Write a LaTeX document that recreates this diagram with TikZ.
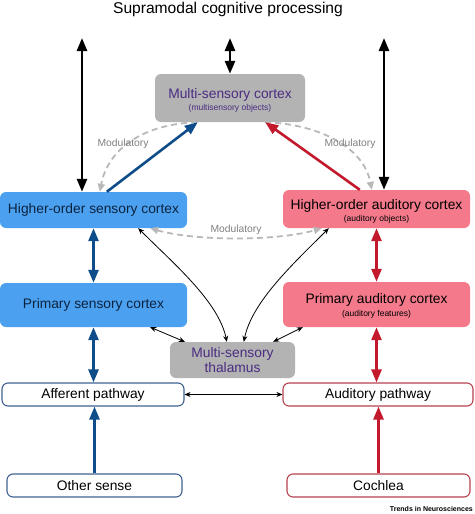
\documentclass[tikz,border=0pt]{standalone}
\usepackage{fontspec}
\setmainfont{Liberation Sans}
\usetikzlibrary{arrows.meta,calc}
\definecolor{boxblue}{HTML}{4BA1EF}
\definecolor{boxpink}{HTML}{F47A8B}
\definecolor{boxgray}{HTML}{B3B3B3}
\definecolor{arrblue}{HTML}{0F4C8A}
\definecolor{arrred}{HTML}{C21A2C}
\definecolor{txtpurple}{HTML}{4A2C82}
\definecolor{txtnavy}{HTML}{0C2340}
\definecolor{dashgray}{HTML}{B8B8B8}
\definecolor{modgray}{HTML}{808080}
\definecolor{lineblue}{HTML}{3E6290}
\definecolor{linered}{HTML}{B8424F}
\newcommand{\subfont}{\fontsize{8.5}{10}\selectfont}
\begin{document}
\begin{tikzpicture}[x=1pt,y=-1pt,
  box/.style={rounded corners=6pt, inner sep=0pt, align=center, font=\fontsize{13.8}{15}\selectfont},
  bluebox/.style={box, fill=boxblue, text=txtnavy, minimum width=187pt},
  pinkbox/.style={box, fill=boxpink, text=black, minimum width=187pt},
  graybox/.style={box, fill=boxgray, text=txtpurple},
  outblue/.style={box, draw=lineblue, line width=1.1pt, fill=white, minimum height=23pt},
  outred/.style={box, draw=linered, line width=1.1pt, fill=white, minimum height=23pt},
  bigblack/.style={<->, >={Triangle[length=13pt,width=10pt]}, line width=2.6pt, black},
  bigblue/.style={>={Triangle[length=13pt,width=10pt]}, line width=2.6pt, arrblue},
  bigred/.style={>={Triangle[length=13pt,width=10pt]}, line width=2.6pt, arrred},
  thin/.style={<->, >={Stealth[length=6pt,width=5pt]}, line width=0.8pt, black},
  moddash/.style={->, >={Triangle[length=8pt,width=7pt]}, line width=1.8pt, dashgray, dash pattern=on 6pt off 4pt},
  modlabel/.style={font=\fontsize{10.3}{12}\selectfont, text=modgray, inner sep=1pt}
]
\useasboundingbox (0,0) rectangle (474,514);

\node[font=\fontsize{15.6}{18}\selectfont, inner sep=0pt] (title) at (228,9) {Supramodal cognitive processing};

\node[graybox, minimum width=150pt, minimum height=48pt] (msc) at (230,98)
  {\rule{0pt}{15pt}Multi-sensory cortex\\[-3pt]{\subfont (multisensory objects)}};
\node[bluebox, minimum height=36pt] (hos) at (93.5,210) {Higher-order sensory cortex};
\node[pinkbox, minimum height=38pt] (hoa) at (376.5,209)
  {\rule{0pt}{14pt}Higher-order auditory cortex\\[-3pt]{\subfont (auditory objects)}};
\node[bluebox, minimum height=44pt] (ps) at (93.5,305) {Primary sensory cortex};
\node[pinkbox, minimum height=45pt] (pa) at (376.5,304.5)
  {\rule{0pt}{13pt}Primary auditory cortex\\[-2pt]{\subfont (auditory features)}};
\node[graybox, minimum width=125pt, minimum height=36pt] (th) at (232.5,360) {Multi-sensory\\thalamus};
\node[outblue, minimum width=182pt] (ap) at (93,394.5) {Afferent pathway};
\node[outred, minimum width=190pt] (aup) at (378,394.5) {Auditory pathway};
\node[outblue, minimum width=175pt] (os) at (94.5,485.5) {Other sense};
\node[outred, minimum width=183pt] (co) at (378.5,485.5) {Cochlea};

\node[anchor=east, font=\bfseries\fontsize{7}{8}\selectfont, inner sep=0pt] (trend) at (473,509) {Trends in Neurosciences};

% top arrows
\coordinate (t1) at (82,38);
\coordinate (t2) at (230,38);
\coordinate (t3) at (384,38);
\draw[bigblack] (t1) -- (t1 |- hos.north);
\draw[bigblack] (t2) -- (msc.north);
\draw[bigblack] (t3) -- (t3 |- hoa.north);

% modulatory dashed
\draw[moddash] ([xshift=42pt]msc.south west) .. controls +(-55,2) and +(8,-42) .. ([xshift=100pt]hos.north west);
\draw[moddash] ([xshift=-40pt]msc.south east) .. controls +(55,2) and +(-8,-42) .. ([xshift=89pt]hoa.north west);
\draw[moddash, <->] ([xshift=-37pt]hos.south east) .. controls +(45,13) and +(-45,13) .. ([xshift=39pt]hoa.south west);
\node[modlabel] (m1) at (123,144) {Modulatory};
\node[modlabel] (m2) at (350,144) {Modulatory};
\node[modlabel] (m3) at (236,230) {Modulatory};

% to multisensory cortex
\draw[bigblue, ->] ([xshift=107pt]hos.north west) -- ([xshift=43pt]msc.south west);
\draw[bigred, ->] ([xshift=77pt]hoa.north west) -- ([xshift=-40pt]msc.south east);

% vertical hierarchies
\draw[bigblue, <->] (hos.south) -- (ps.north);
\draw[bigblue, <->] (ps.south) -- (ps.south |- ap.north);
\draw[bigblue, ->] (os.north) -- (os.north |- ap.south);
\draw[bigred, <->] (hoa.south) -- (pa.north);
\draw[bigred, <->] (pa.south) -- (pa.south |- aup.north);
\draw[bigred, ->] (co.north) -- (co.north |- aup.south);

% thalamic connections
\draw[thin] ([xshift=-49pt]hos.south east) .. controls +(35,35) and +(-8,-40) .. ([xshift=57pt]th.north west);
\draw[thin] ([xshift=46pt]hoa.south west) .. controls +(-35,35) and +(8,-40) .. ([xshift=74pt]th.north west);
\draw[thin] ([xshift=-37pt]ps.south east) -- ([xshift=15pt]th.north west);
\draw[thin] ([xshift=20pt]pa.south west) -- ([xshift=-22pt]th.north east);
\draw[thin] (ap.east) -- (aup.west);
\end{tikzpicture}
\end{document}
